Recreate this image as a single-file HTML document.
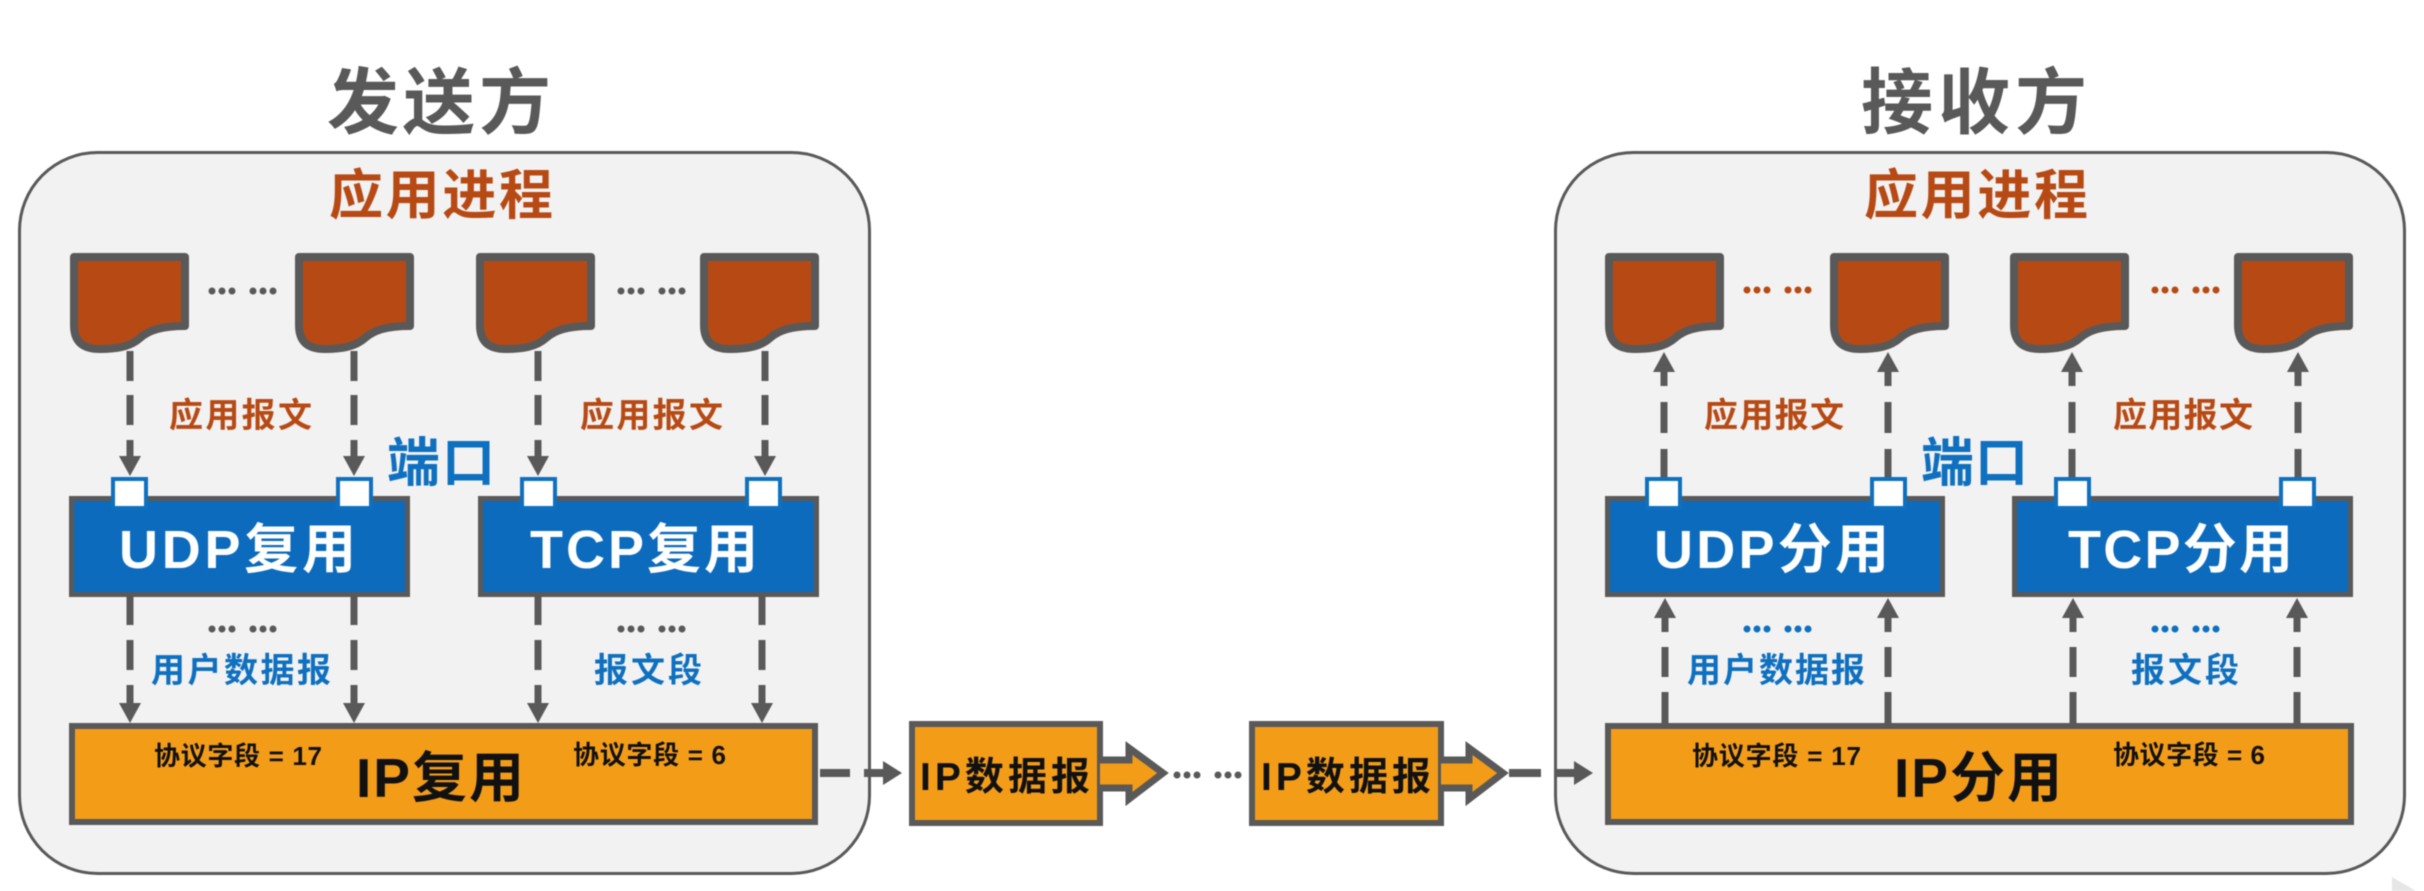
<!DOCTYPE html>
<html lang="zh">
<head>
<meta charset="utf-8">
<title>UDP/TCP multiplexing and demultiplexing</title>
<style>
html,body{margin:0;padding:0;background:#fff;width:2424px;height:891px;overflow:hidden}
svg{display:block;filter:blur(0.6px)}
text{font-family:"Liberation Sans","Noto Sans CJK SC",sans-serif;font-weight:700}
.title{fill:#595959;font-size:72px}
.proc{fill:#b74a14;font-size:54px}
.msg{fill:#b74a14;font-size:34px}
.port{fill:#0f70c0;font-size:53px}
.blue{fill:#fff;font-size:54px}
.seg{fill:#0f70c0;font-size:34px}
.field{fill:#111;font-size:26px}
.ip{fill:#111;font-size:55px}
.dg{fill:#111;font-size:39px}
.dash{stroke:#595959;stroke-width:7;fill:none}
</style>
</head>
<body>
<svg width="2424" height="891" viewBox="0 0 2424 891" xmlns="http://www.w3.org/2000/svg">
<defs>
<path id="doc" d="M4 4H115V73C92 73 79 77 70 85C60 94 46 96 30 96C12 96 4 88 4 72Z" fill="#b74a14" stroke="#595959" stroke-width="8" stroke-linejoin="round"/>
<path id="ah" d="M-11 0H11L0 20Z" fill="#595959"/>
<path id="au" d="M-11 0H11L0 -20Z" fill="#595959"/>
<g id="portbox"><rect x="2" y="2" width="33" height="29" fill="#fff" stroke="#0f70c0" stroke-width="4"/></g>
<g id="dots3"><circle cx="4" cy="0" r="3.5"/><circle cx="14" cy="0" r="3.5"/><circle cx="24" cy="0" r="3.5"/><circle cx="45" cy="0" r="3.5"/><circle cx="55" cy="0" r="3.5"/><circle cx="65" cy="0" r="3.5"/></g>
</defs>
<rect width="2424" height="891" fill="#fff"/>

<!-- panels -->
<rect x="19.5" y="152.5" width="850" height="721" rx="78" fill="#f2f2f2" stroke="#595959" stroke-width="3"/>
<rect x="1555.5" y="152.5" width="849" height="721" rx="78" fill="#f2f2f2" stroke="#595959" stroke-width="3"/>

<!-- titles -->
<text class="title" x="327" y="128" textLength="224">发送方</text>
<text class="title" x="1861" y="128" textLength="226">接收方</text>
<text class="proc" x="329" y="214" textLength="224">应用进程</text>
<text class="proc" x="1864" y="214" textLength="224">应用进程</text>

<!-- documents -->
<use href="#doc" x="70" y="253"/><use href="#doc" x="295" y="253"/><use href="#doc" x="476" y="253"/><use href="#doc" x="700" y="253"/>
<use href="#doc" x="1605" y="253"/><use href="#doc" x="1830" y="253"/><use href="#doc" x="2010" y="253"/><use href="#doc" x="2234" y="253"/>

<!-- dots -->
<use href="#dots3" x="208" y="291" fill="#595959"/><use href="#dots3" x="617" y="291" fill="#595959"/>
<use href="#dots3" x="1743" y="290" fill="#b74a14"/><use href="#dots3" x="2151" y="290" fill="#b74a14"/>
<use href="#dots3" x="208" y="629" fill="#595959"/><use href="#dots3" x="617" y="629" fill="#595959"/>
<use href="#dots3" x="1743" y="629" fill="#0f70c0"/><use href="#dots3" x="2151" y="629" fill="#0f70c0"/>

<!-- sender upper dashed arrows -->
<g class="dash">
<path d="M130 351V381M130 395V425M130 440V462"/><path d="M354 351V381M354 395V425M354 440V462"/>
<path d="M538 351V381M538 395V425M538 440V462"/><path d="M765 351V381M765 395V425M765 440V462"/>
</g>
<use href="#ah" x="130" y="456"/><use href="#ah" x="354" y="456"/><use href="#ah" x="538" y="456"/><use href="#ah" x="765" y="456"/>

<!-- sender lower dashed arrows -->
<g class="dash">
<path d="M130 597V625M130 640V670M130 685V708"/><path d="M354 597V625M354 640V670M354 685V708"/>
<path d="M538 597V625M538 640V670M538 685V708"/><path d="M762 597V625M762 640V670M762 685V708"/>
</g>
<use href="#ah" x="130" y="703"/><use href="#ah" x="354" y="703"/><use href="#ah" x="538" y="703"/><use href="#ah" x="762" y="703"/>

<!-- receiver upper dashed arrows -->
<g class="dash">
<path d="M1664 368V386M1664 402V433M1664 449V480"/><path d="M1888 368V386M1888 402V433M1888 449V480"/>
<path d="M2072 368V386M2072 402V433M2072 449V480"/><path d="M2298 368V386M2298 402V433M2298 449V480"/>
</g>
<use href="#au" x="1664" y="372"/><use href="#au" x="1888" y="372"/><use href="#au" x="2072" y="372"/><use href="#au" x="2298" y="372"/>

<!-- receiver lower dashed arrows -->
<g class="dash">
<path d="M1665 612V632M1665 647V677M1665 692V723"/><path d="M1888 612V632M1888 647V677M1888 692V723"/>
<path d="M2073 612V632M2073 647V677M2073 692V723"/><path d="M2297 612V632M2297 647V677M2297 692V723"/>
</g>
<use href="#au" x="1665" y="618"/><use href="#au" x="1888" y="618"/><use href="#au" x="2073" y="618"/><use href="#au" x="2297" y="618"/>

<!-- blue boxes -->
<g fill="#0c6bbd" stroke="#595959" stroke-width="5">
<rect x="71.5" y="498.5" width="336" height="96"/>
<rect x="480.5" y="498.5" width="336" height="96"/>
<rect x="1607.5" y="498.5" width="335" height="96"/>
<rect x="2014.5" y="498.5" width="336" height="96"/>
</g>
<use href="#portbox" x="111" y="477"/><use href="#portbox" x="336" y="477"/><use href="#portbox" x="520" y="477"/><use href="#portbox" x="745" y="477"/>
<use href="#portbox" x="1645" y="477"/><use href="#portbox" x="1870" y="477"/><use href="#portbox" x="2054" y="477"/><use href="#portbox" x="2279" y="477"/>

<!-- orange boxes -->
<g fill="#f39c18" stroke="#595959" stroke-width="6">
<rect x="72" y="726" width="743" height="96"/>
<rect x="1608" y="726" width="743" height="96"/>
<rect x="912" y="724" width="188" height="99"/>
<rect x="1252" y="724" width="189" height="99"/>
</g>

<!-- datagram arrows -->
<path d="M1100 760H1129V748L1163 773L1129 799V788H1100" fill="#f39c18" stroke="#595959" stroke-width="7" stroke-linejoin="miter"/>
<path d="M1441 760H1469V748L1503 773L1469 799V788H1441" fill="#f39c18" stroke="#595959" stroke-width="7" stroke-linejoin="miter"/>

<!-- connection arrows -->
<path d="M820 773H850M864 773H886" stroke="#595959" stroke-width="8" fill="none"/>
<path d="M883 761V785L902 773Z" fill="#595959"/>
<path d="M1509 773H1541M1555 773H1576" stroke="#595959" stroke-width="8" fill="none"/>
<path d="M1574 761V785L1593 773Z" fill="#595959"/>
<use href="#dots3" x="1173" y="775" fill="#595959"/>

<!-- labels -->
<text class="msg" x="169" y="427" textLength="143">应用报文</text>
<text class="msg" x="580" y="427" textLength="143">应用报文</text>
<text class="msg" x="1704" y="427" textLength="140">应用报文</text>
<text class="msg" x="2113" y="427" textLength="140">应用报文</text>

<text class="port" x="387" y="481" textLength="108">端口</text>
<text class="port" x="1921" y="481" textLength="107">端口</text>

<text class="blue" x="119" y="568" textLength="237">UDP复用</text>
<text class="blue" x="530" y="568" textLength="228">TCP复用</text>
<text class="blue" x="1654" y="568" textLength="235">UDP分用</text>
<text class="blue" x="2068" y="568" textLength="225">TCP分用</text>

<text class="seg" x="151" y="682" textLength="180">用户数据报</text>
<text class="seg" x="594" y="682" textLength="108">报文段</text>
<text class="seg" x="1687" y="682" textLength="178">用户数据报</text>
<text class="seg" x="2131" y="682" textLength="108">报文段</text>

<text class="field" x="154" y="765" textLength="168">协议字段 = 17</text>
<text class="field" x="573" y="764" textLength="153">协议字段 = 6</text>
<text class="field" x="1692" y="765" textLength="169">协议字段 = 17</text>
<text class="field" x="2113" y="764" textLength="152">协议字段 = 6</text>

<text class="ip" x="356" y="797" textLength="168">IP复用</text>
<text class="ip" x="1894" y="797" textLength="168">IP分用</text>

<text class="dg" x="920" y="790" textLength="170">IP数据报</text>
<text class="dg" x="1261" y="790" textLength="170">IP数据报</text>

<!-- corner artifact -->
<path d="M2372 891V872L2398 846H2424V891Z" fill="#fff" opacity=".85"/>
<path d="M2392 877L2416 891H2392Z" fill="#e6e6e6"/>
</svg>
</body>
</html>
